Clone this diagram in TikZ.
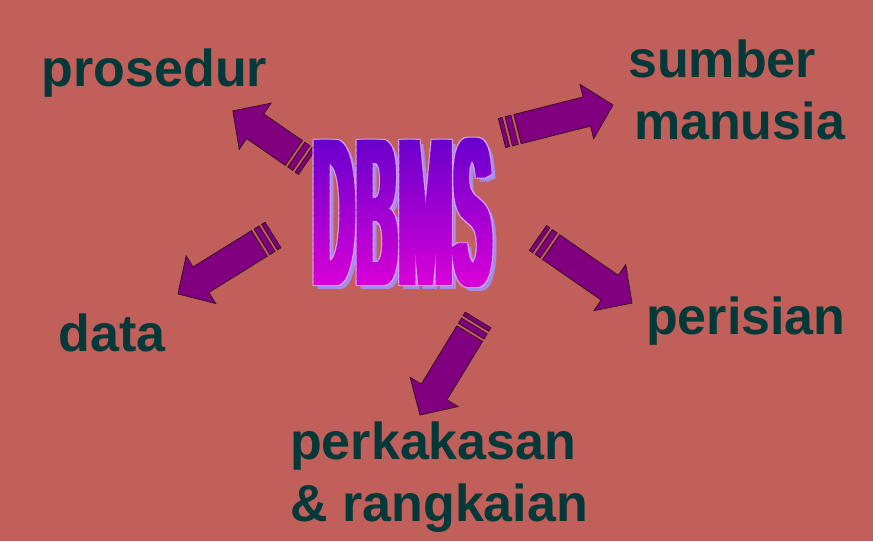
\documentclass[tikz,border=0pt]{standalone}
\usepackage{fontspec}
\usepackage{graphicx}
\setmainfont{Liberation Sans}
\newfontfamily\dbmsfont{Liberation Sans}
\definecolor{bg}{RGB}{193,96,90}
\definecolor{txt}{RGB}{5,57,57}
\definecolor{arrowfill}{RGB}{128,0,128}
\definecolor{arrowline}{RGB}{60,10,40}
\definecolor{dtop}{RGB}{100,0,204}
\definecolor{dbot}{RGB}{215,0,215}
\definecolor{dshadow}{RGB}{165,140,230}
\definecolor{dline}{RGB}{215,160,245}
\tikzset{
  label/.style={text=txt, font=\bfseries\fontsize{52}{60}\selectfont, inner sep=0pt, anchor=base west},
  arrowbody/.style={fill=arrowfill, draw=arrowline, line width=0.8pt, line join=miter},
  dbmsglyph/.style={font=\dbmsfont\bfseries\fontsize{100}{100}\selectfont, inner sep=0pt, anchor=base west, xscale=0.55, yscale=2.109, transform shape}
}
\newcommand\dbmsword{D\kern6pt B\kern5.1pt\scalebox{1.16}[1]{M}\kern2.9pt S}
\newcommand\dbmscopy[4]{%
  \begin{scope}[shift={(#1,#2)}]
    \node[dbmsglyph, text=#3] (#4) at (0,0) {\dbmsword};
  \end{scope}}
\newcommand\stripedarrow[3]{%
  \begin{scope}[shift={(#1)}, rotate=#2, x=1pt, y=1pt]
    \path[arrowbody] (0,-15) rectangle (4,15);
    \path[arrowbody] (7,-15) rectangle (13,15);
    \path[arrowbody] (16,-15) -- ({#3-27},-15) -- ({#3-27},-28) -- (#3,0) -- ({#3-27},28) -- ({#3-27},15) -- (16,15) -- cycle;
  \end{scope}}
\begin{document}
\begin{tikzpicture}[x=1pt,y=-1pt]
\useasboundingbox (0,0) rectangle (873,541);
\fill[bg] (0,0) rectangle (873,541);

% labels
\node[label] (prosedur) at (41.5,86.7) {prosedur};
\node[label] (sumber) at (628,77.7) {sumber};
\node[label] (manusia) at (633.8,139) {manusia};
\node[label] (data) at (58.2,351.7) {data};
\node[label] (perisian) at (646,334) {perisian};
\node[label] (perkakasan) at (290,459.3) {perkakasan};
\node[label] (rangkaian) at (290.2,521) {\& rangkaian};

% arrows
\coordinate (t1) at (307,162);
\coordinate (t2) at (502,133);
\coordinate (t3) at (273,235);
\coordinate (t4) at (538,238);
\coordinate (t5) at (478,320);
\stripedarrow{t1}{145.4}{90}
\stripedarrow{t2}{14.2}{114.5}
\stripedarrow{t3}{-148.2}{111.8}
\stripedarrow{t4}{-34.7}{114.3}
\stripedarrow{t5}{-121.4}{111.3}

% DBMS: shadow, outline, gradient body
\foreach \d in {0,2,...,8}{\dbmscopy{314+\d}{289}{dshadow}{dbmsshadow}}
\foreach \d in {-1,1,...,9}{\dbmscopy{310+\d}{284}{dline}{dbmslineA}\dbmscopy{310+\d}{286}{dline}{dbmslineB}}
\foreach \i in {0,...,23}{
  \pgfmathsetmacro\ya{\i==0 ? 110 : 134+\i*151/24}
  \pgfmathsetmacro\yb{\i==23 ? 300 : 134+(\i+1)*151/24+0.6}
  \pgfmathsetmacro\pc{100*(\i+0.5)/24}
  \colorlet{stripcol}{dbot!\pc!dtop}
  \begin{scope}
    \clip (290,\ya) rectangle (510,\yb);
    \foreach \d in {0,2,...,8}{\dbmscopy{310+\d}{285}{stripcol}{dbms}}
  \end{scope}
}
\end{tikzpicture}
\end{document}
